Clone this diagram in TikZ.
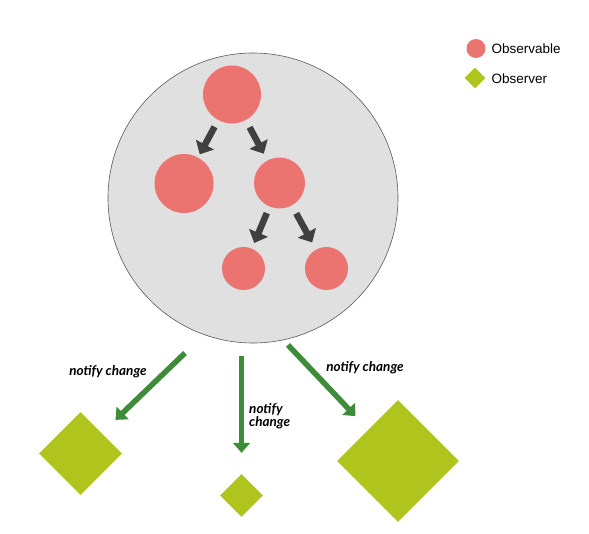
\documentclass[tikz,border=0pt]{standalone}
\usepackage{fontspec}
\newfontfamily\legendfont{Liberation Sans}
\newfontfamily\notefont{Lato}
\usetikzlibrary{arrows.meta,shapes.geometric}
\definecolor{obsred}{RGB}{236,116,112}
\definecolor{obsgreen}{RGB}{176,196,30}
\definecolor{arrgreen}{RGB}{62,140,58}
\definecolor{arrgray}{RGB}{64,64,64}
\definecolor{bggray}{RGB}{224,224,224}
\tikzset{
  observable/.style={circle,fill=obsred,inner sep=0pt,minimum size=#1},
  observer/.style={diamond,fill=obsgreen,inner sep=0pt,minimum width=#1,minimum height=#1},
  treearrow/.style={draw=arrgray,line width=6.5pt,-{Triangle[width=20pt,length=11pt]}},
  notifyarrow/.style={draw=arrgreen,line width=5.5pt,-{Triangle[width=17pt,length=10pt]}},
  notifylabel/.style={font=\notefont\fontsize{13.5}{13}\selectfont\bfseries\itshape,inner sep=0pt,align=left},
  legendtext/.style={font=\legendfont\fontsize{13.5}{14}\selectfont,anchor=base west,inner sep=0pt}
}
\begin{document}
\begin{tikzpicture}[x=1pt,y=-1pt]
\useasboundingbox (0,0) rectangle (589,533);
% group circle
\node[circle,fill=bggray,draw=black!65,line width=0.6pt,minimum size=290pt,inner sep=0pt] (group) at (253,198) {};
% observables
\node[observable=58pt] (t) at (232,94.5) {};
\node[observable=59pt] (l) at (184,183.5) {};
\node[observable=51pt] (r) at (279.5,183) {};
\node[observable=43pt] (bl) at (243.5,268.5) {};
\node[observable=43pt] (br) at (326.5,268.5) {};
\draw[treearrow,shorten <=7.5pt,shorten >=3.5pt] (t) -- (l);
\draw[treearrow,shorten <=8pt,shorten >=7.5pt] (t) -- (r);
\draw[treearrow,shorten <=7pt,shorten >=6pt] (r) -- (bl);
\draw[treearrow,shorten <=9pt,shorten >=8pt] (r) -- (br);
% observers
\node[observer=83pt] (o1) at (80.5,453.5) {};
\node[observer=43pt] (o2) at (241.5,495.5) {};
\node[observer=122pt] (o3) at (398,461) {};
\coordinate (s1) at (185,353);
\coordinate (s2) at (241.5,356);
\coordinate (s3) at (288,345);
\draw[notifyarrow,shorten >=19pt] (s1) -- (o1);
\draw[notifyarrow,shorten >=21pt] (s2) -- (o2);
\draw[notifyarrow,shorten >=18.5pt] (s3) -- (o3);
\node[notifylabel] (n1) at (108,372) {notify change};
\node[notifylabel] (n3) at (365,368) {notify change};
\node[notifylabel,anchor=north west] (n2) at (249,403) {notify\\change};
% legend
\node[observable=19pt] (lc) at (476,48.5) {};
\node[observer=21pt] (ld) at (475,78) {};
\node[legendtext] (lt1) at (491.5,53) {Observable};
\node[legendtext] (lt2) at (491.5,83) {Observer};
\end{tikzpicture}
\end{document}
